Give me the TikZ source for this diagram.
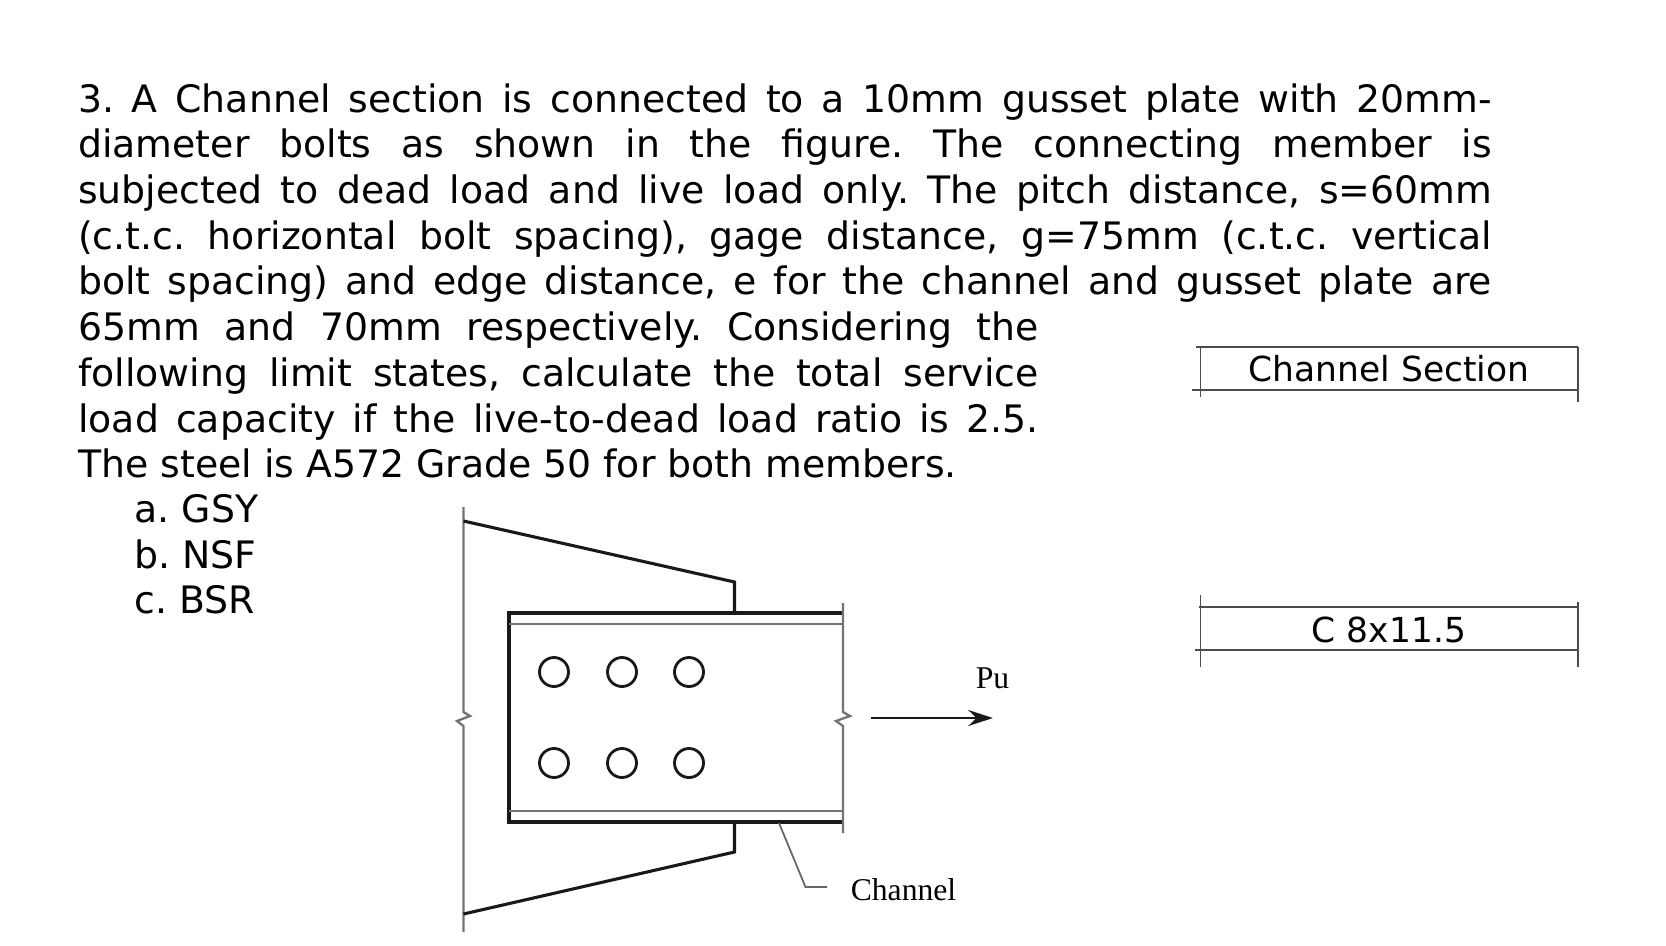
\documentclass[tikz,border=0pt]{standalone}
\usepackage{fontspec}
\setmainfont{DejaVu Sans}
\newfontfamily\figfont{Liberation Serif}
\usetikzlibrary{arrows.meta}
\frenchspacing

\newcommand{\wideline}[1]{\makebox[14.13cm][s]{#1}}
\newcommand{\shortline}[1]{\makebox[9.6cm][s]{#1}}

\tikzset{
  x=0.01cm, y=-0.01cm,
  prose/.style={inner sep=0pt, anchor=north west, align=left, font=\fontsize{10.75}{12.95}\selectfont},
  cell/.style={inner sep=0pt, font=\fontsize{9.8}{12}\selectfont},
  label/.style={inner sep=0pt, font=\figfont\fontsize{9}{11}\selectfont},
  bolt/.style={circle, draw=black!90, line width=0.8pt, minimum size=0.29cm, inner sep=0pt},
  heavy/.style={draw=black!90, line width=0.88pt},
  light/.style={draw=black!55, line width=0.65pt},
  rule/.style={draw=black!70, line width=0.4pt}
}

\begin{document}
\begin{tikzpicture}
  \useasboundingbox (0,0) rectangle (1666,945);

  %Question text
  \node[prose] (q1) at (77.5,83) {%
    \wideline{3. A Channel section is connected to a 10mm gusset plate with 20mm-}\\
    \wideline{diameter bolts as shown in the figure. The connecting member is}\\
    \wideline{subjected to dead load and live load only. The pitch distance, s=60mm}\\
    \wideline{(c.t.c. horizontal bolt spacing), gage distance, g=75mm (c.t.c. vertical}\\
    \wideline{bolt spacing) and edge distance, e for the channel and gusset plate are}};
  \node[prose] (q2) at (77.5,311.5) {%
    \shortline{65mm and 70mm respectively. Considering the}\\
    \shortline{following limit states, calculate the total service}\\
    \shortline{load capacity if the live-to-dead load ratio is 2.5.}\\
    The steel is A572 Grade 50 for both members.};
  \node[prose] (q3) at (134,494) {a. GSY\\b. NSF\\c. BSR};

  %Tables
  \node[cell] (head) at (1389,369) {Channel Section};
  \node[cell] (size) at (1389,630) {C 8x11.5};

  \draw[rule] (1196,347) -- (1578,347);
  \draw[rule] (1192,390) -- (1578,390);
  \draw[rule] (1200.7,347) -- (1200.7,397);
  \draw[rule] (1578,347) -- (1578,402);

  \draw[rule] (1199,607) -- (1578,607);
  \draw[rule] (1195,650) -- (1578,650);
  \draw[rule] (1200.7,595) -- (1200.7,667);
  \draw[rule] (1578,602) -- (1578,667);

  %Gusset plate
  \draw[light] (463.5,507) -- (463.5,712) -- (470,716) -- (457,721) -- (463.5,726) -- (463.5,932);
  \draw[heavy] (463.5,521) -- (734.5,582) -- (734.5,613);
  \draw[heavy] (734.5,822) -- (734.5,852) -- (463.5,914);

  %Channel
  \draw[heavy] (843,613) -- (509,613) -- (509,822) -- (843,822);
  \draw[light] (509,624) -- (843,624);
  \draw[light] (509,811) -- (843,811);
  \draw[light] (843,603) -- (843,712) -- (850,716) -- (836,721) -- (843,726) -- (843,833);

  %Bolts
  \node[bolt] (b1) at (554,672) {};
  \node[bolt] (b2) at (622,672) {};
  \node[bolt] (b3) at (689,672) {};
  \node[bolt] (b4) at (554,763) {};
  \node[bolt] (b5) at (622,763) {};
  \node[bolt] (b6) at (689,763) {};

  %Load and leader
  \coordinate (pstart) at (871,718);
  \coordinate (pend) at (993,718);
  \coordinate (web) at (779,823);
  \coordinate (bend) at (805.5,887);
  \coordinate (lead) at (827,887);
  \node[label] (pu) at (992.5,678) {Pu};
  \node[label] (chan) at (903.5,890) {Channel};

  \draw[-{Stealth[length=7pt,width=4.5pt]}, black!90, line width=0.7pt] (pstart) -- (pend);
  \draw[black!60, line width=0.5pt] (web) -- (bend) -- (lead);

\end{tikzpicture}
\end{document}
